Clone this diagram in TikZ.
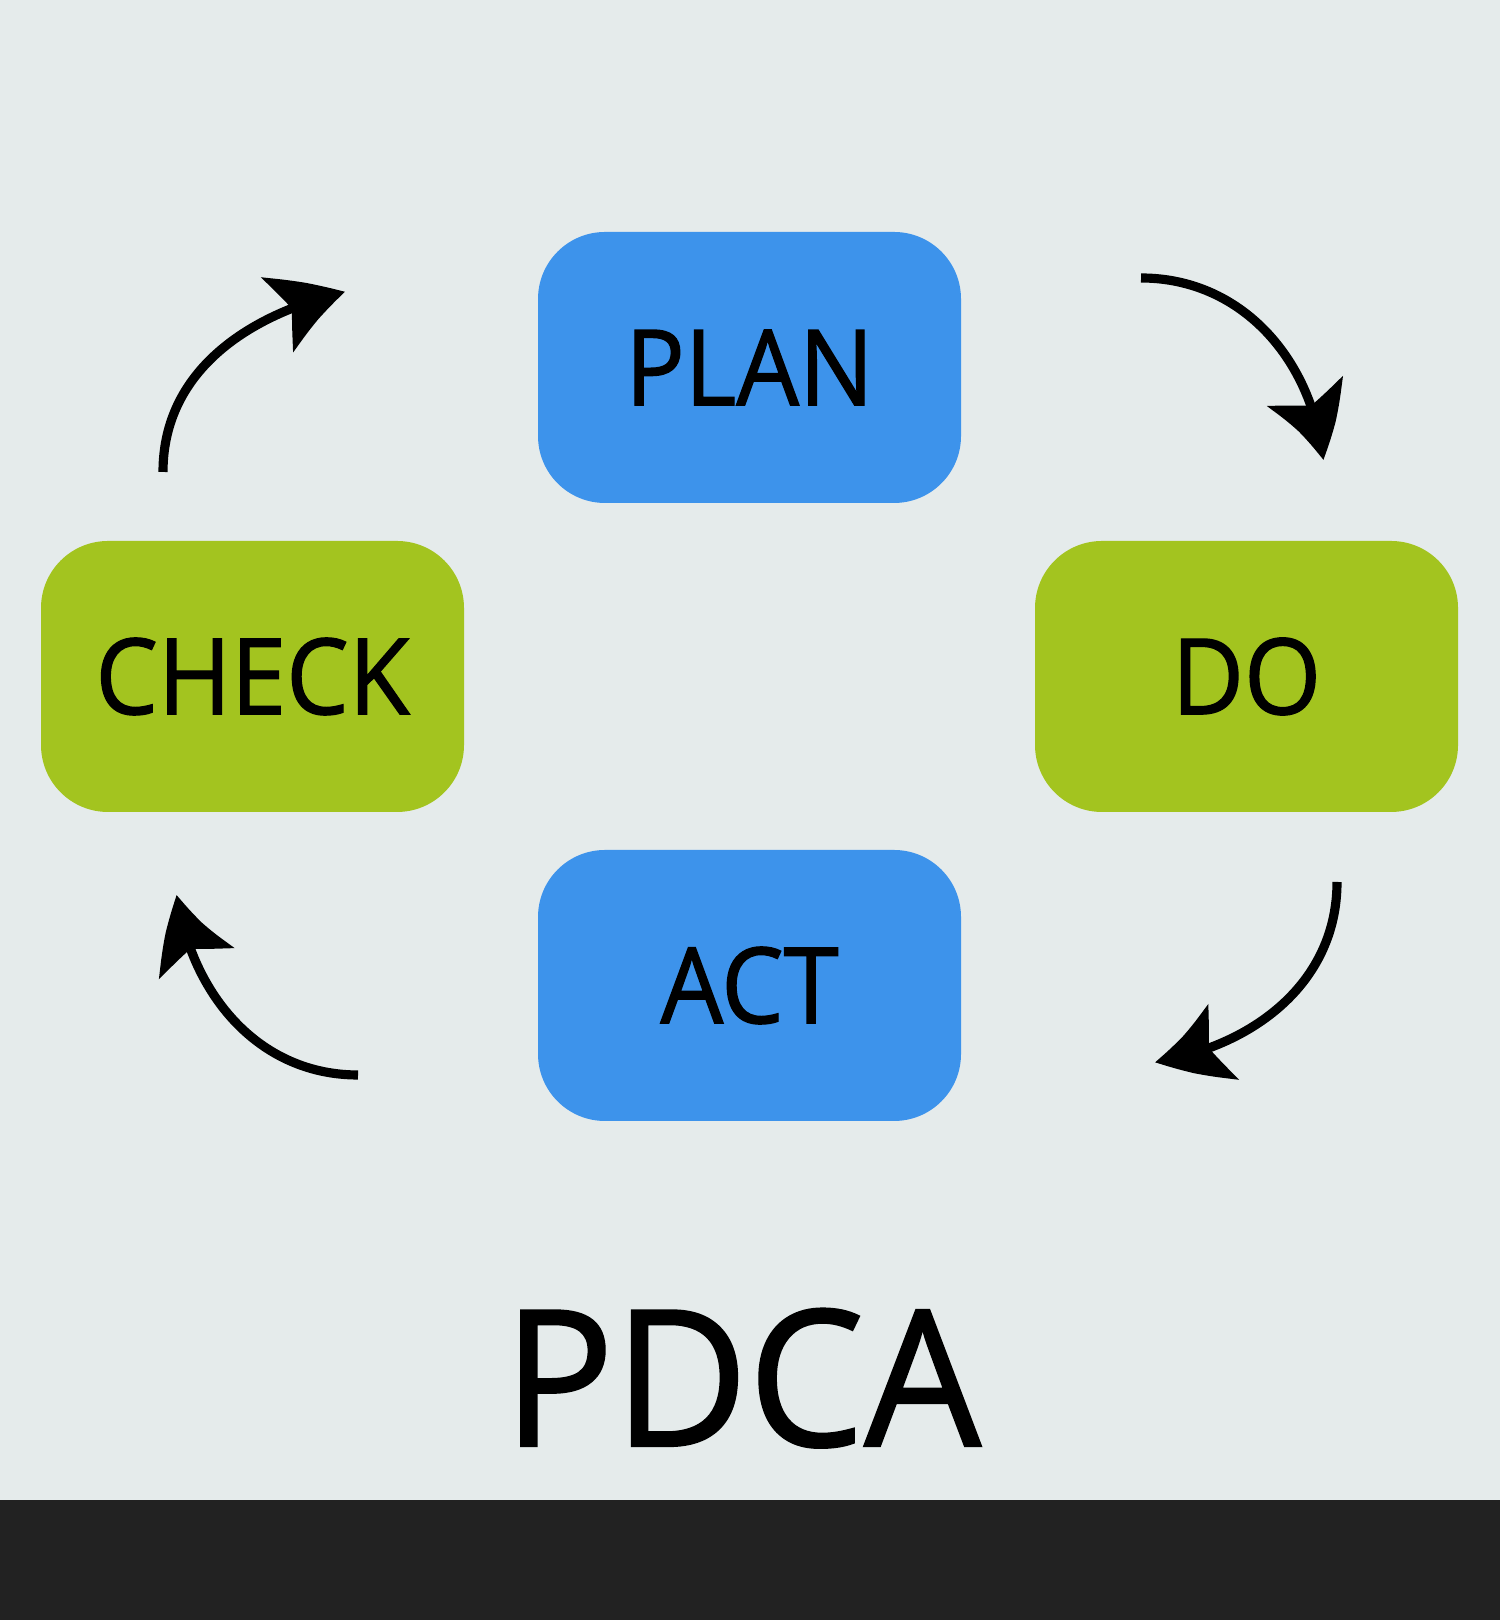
\documentclass[tikz,border=0pt]{standalone}
\usepackage{xcolor}
\usepackage{fontspec}
\setmainfont[FakeStretch=0.94,FakeBold=1.2]{Open Sans}
\usepackage{tikz}
\usetikzlibrary{arrows.meta,bending}
\definecolor{bgcol}{HTML}{E5EBEB}
\definecolor{planblue}{HTML}{3D93EB}
\definecolor{dogreen}{HTML}{A3C41F}
\definecolor{barcol}{HTML}{222222}
\tikzset{>={Stealth[length=0.72cm,width=0.8cm,inset=0.16cm,bend]},
  stagebox/.style={rounded corners=0.67cm,minimum width=4.23cm,minimum height=2.71cm,
    inner sep=0pt,font=\fontsize{30}{36}\selectfont,text=black},
  cyclearrow/.style={line width=2.6pt,black,->}}

\begin{document}
\begin{tikzpicture}
     
      \useasboundingbox (0,0) rectangle (15,16.2);
      \fill[bgcol](0,0) rectangle (15,16.2);
      \fill[barcol](0,0) rectangle (15,1.2);

    \node[stagebox,fill=planblue] (plan) at (7.495,12.525) {PLAN};
    \node[stagebox,fill=dogreen] (do) at (12.465,9.435) {DO};
    \node[stagebox,fill=dogreen] (check) at (2.525,9.435) {CHECK};
    \node[stagebox,fill=planblue] (act) at (7.495,6.345) {ACT};

    \node[anchor=base,inner sep=0pt,font=\fontsize{54}{60}\selectfont\addfontfeature{FakeStretch=0.97}] (pdca) at (7.42,1.74) {PDCA};

      \coordinate (pd-a) at (11.41,13.42);
      \coordinate (pd-b) at (13.23,11.60);
      \coordinate (da-a) at (13.37,7.38);
      \coordinate (da-b) at (11.55,5.58);
      \coordinate (ac-a) at (3.58,5.45);
      \coordinate (ac-b) at (1.77,7.25);
      \coordinate (cp-a) at (1.63,11.48);
      \coordinate (cp-b) at (3.45,13.28);

    \draw[cyclearrow](pd-a) to[out=0,in=96] (pd-b);
    \draw[cyclearrow](da-a) to[out=-90,in=9] (da-b);
    \draw[cyclearrow](ac-a) to[out=180,in=-82] (ac-b);
    \draw[cyclearrow](cp-a) to[out=90,in=193] (cp-b);
    \end{tikzpicture}
\end{document}
